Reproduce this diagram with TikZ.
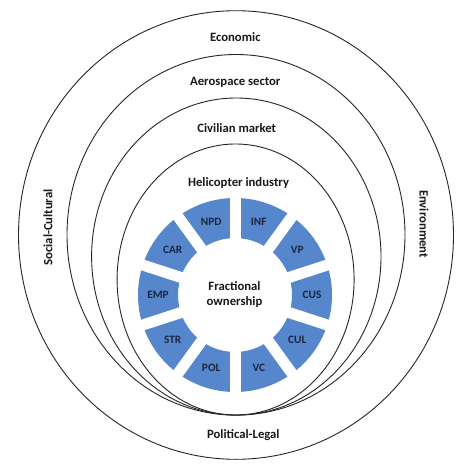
\documentclass[tikz,border=0pt]{standalone}
\usepackage{fontspec}
\setmainfont{Carlito}
\definecolor{segblue}{RGB}{86,134,204}
\definecolor{segtext}{RGB}{28,38,64}
\begin{document}
\begin{tikzpicture}[x=1pt,y=-1pt,
  ring/.style={draw=black!85, line width=0.9pt},
  lbl/.style={font=\bfseries\fontsize{12.7}{15.6}\selectfont, text=black!90, inner sep=0pt, align=center},
  seglbl/.style={font=\bfseries\fontsize{11.3}{13}\selectfont, text=segtext, inner sep=0pt}]
\useasboundingbox (0,0) rectangle (474,474);
\fill[white] (0,0) rectangle (474,474);
% nested ellipses
\draw[ring] (236,235) ellipse [x radius=217.5, y radius=224.3];
\draw[ring] (236,234.8) ellipse [x radius=169, y radius=180.3];
\draw[ring] (236.3,256.5) ellipse [x radius=144.7, y radius=158.5];
\draw[ring] (235.6,279.5) ellipse [x radius=118.5, y radius=135.5];
% segmented ring
\coordinate (rc) at (235,295);
\fill[segblue, even odd rule] (rc) circle [radius=97] (rc) circle [radius=57];
\foreach \a in {90,126,...,414}
  \draw[white, line width=11pt] ([shift={(\a:50)}]rc) -- ([shift={(\a:104)}]rc);
\foreach \ang/\txt in {108/NPD,144/CAR,180/EMP,216/STR,252/POL,288/VC,324/CUL,0/CUS,36/VP,72/INF}
  \node[seglbl] (s\txt) at ([shift={(-\ang:77)}]rc) {\txt};
% labels
\node[lbl] (eco) at (235.3,36.7) {Economic};
\node[lbl] (aer) at (235.3,82.3) {Aerospace sector};
\node[lbl] (civ) at (236.7,128.3) {Civilian market};
\node[lbl] (hel) at (238.5,183.3) {Helicopter industry};
\node[lbl] (fra) at (234.5,294.5) {Fractional\\ownership};
\node[lbl] (pol) at (243.3,435) {Political-Legal};
\node[lbl, rotate=90] (soc) at (48,227.5) {Social-Cultural};
\node[lbl, rotate=-90] (env) at (424,224) {Environment};
\end{tikzpicture}
\end{document}
